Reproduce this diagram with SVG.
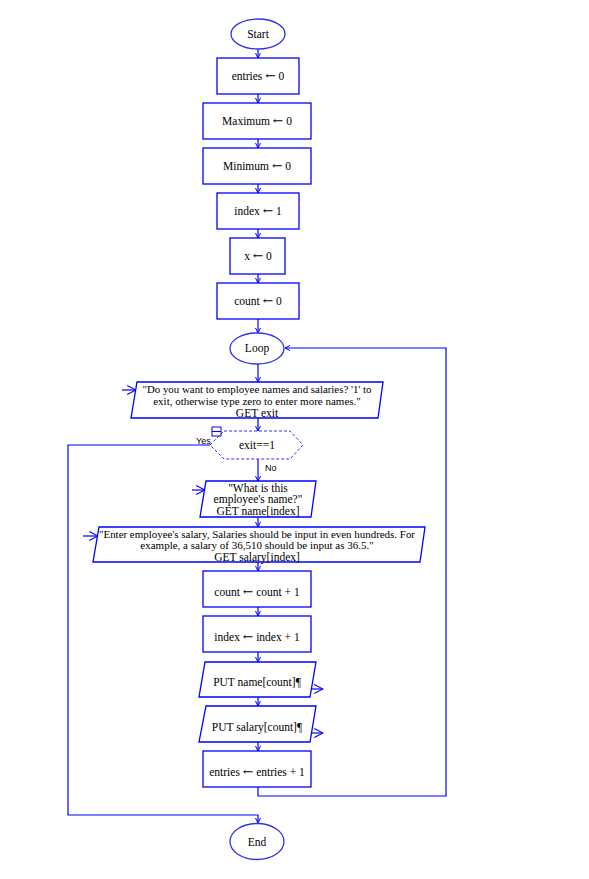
<svg xmlns="http://www.w3.org/2000/svg" width="589" height="879" viewBox="0 0 589 879">
<defs>
<style>
.b{fill:#fff;stroke:#0000ff;stroke-width:1.3}
.e{fill:#fff;stroke:#3030f0;stroke-width:1.3}
.d{fill:#fff;stroke:#3030f0;stroke-width:1;stroke-dasharray:3,2}
.c{fill:none;stroke:#0000ff;stroke-width:1.2}
.t{font-family:"Liberation Serif","Times New Roman",serif;font-size:11.5px;fill:#000;text-anchor:middle}
.w{font-size:11px}
.r{font-family:"DejaVu Serif",serif;font-size:12.5px}
.s{font-family:"Liberation Sans",Arial,sans-serif;font-size:9px;fill:#000}
</style>
<marker id="a" viewBox="0 0 6 6" refX="5" refY="3" markerWidth="6" markerHeight="6" markerUnits="userSpaceOnUse" orient="auto">
<path d="M0,0.5 L5,3 L0,5.5" fill="none" stroke="#0000ff" stroke-width="1"/>
</marker>
<marker id="o" viewBox="0 0 10 10" refX="9" refY="5" markerWidth="11" markerHeight="11" markerUnits="userSpaceOnUse" orient="auto">
<path d="M1,1 L9,5 L1,9" fill="none" stroke="#0000ff" stroke-width="1"/>
</marker>
</defs>
<rect width="589" height="879" fill="#fff"/>
<g id="connectors">
<path class="c" d="M258,49 V58" marker-end="url(#a)"/>
<path class="c" d="M258,94 V103" marker-end="url(#a)"/>
<path class="c" d="M258,139 V148" marker-end="url(#a)"/>
<path class="c" d="M258,184 V193" marker-end="url(#a)"/>
<path class="c" d="M258,229 V238" marker-end="url(#a)"/>
<path class="c" d="M258,274 V283" marker-end="url(#a)"/>
<path class="c" d="M258,319 V333" marker-end="url(#a)"/>
<path class="c" d="M258,364 V382" marker-end="url(#a)"/>
<path class="c" d="M258,418 V431" marker-end="url(#a)"/>
<path class="c" d="M258,459 V481" marker-end="url(#a)"/>
<path class="c" d="M258,517 V527" marker-end="url(#a)"/>
<path class="c" d="M258,562 V571" marker-end="url(#a)"/>
<path class="c" d="M258,607 V616" marker-end="url(#a)"/>
<path class="c" d="M258,652 V662" marker-end="url(#a)"/>
<path class="c" d="M258,697 V706" marker-end="url(#a)"/>
<path class="c" d="M258,742 V751" marker-end="url(#a)"/>
<path class="c" d="M258,787 V796 H446 V348 H285" marker-end="url(#a)"/>
<path class="c" d="M210,445 H68 V815 H258 V823" marker-end="url(#a)"/>
<path class="c" d="M122,390 H136" marker-end="url(#o)"/>
<path class="c" d="M192,490 H205" marker-end="url(#o)"/>
<path class="c" d="M83,536 H98" marker-end="url(#o)"/>
<path class="c" d="M310,689 H323" marker-end="url(#o)"/>
<path class="c" d="M310,733 H323" marker-end="url(#o)"/>
</g>
<g id="start"><ellipse class="e" cx="258" cy="34" rx="27" ry="15"/><text class="t" x="258" y="38">Start</text></g>
<g id="n1"><rect class="b" x="217" y="58" width="82" height="36"/><text class="t" x="258" y="80">entries <tspan class="r">←</tspan> 0</text></g>
<g id="n2"><rect class="b" x="203" y="103" width="108" height="36"/><text class="t" x="257" y="125">Maximum <tspan class="r">←</tspan> 0</text></g>
<g id="n3"><rect class="b" x="203" y="148" width="108" height="36"/><text class="t" x="257" y="170">Minimum <tspan class="r">←</tspan> 0</text></g>
<g id="n4"><rect class="b" x="217" y="193" width="82" height="36"/><text class="t" x="258" y="215">index <tspan class="r">←</tspan> 1</text></g>
<g id="n5"><rect class="b" x="230" y="238" width="55" height="36"/><text class="t" x="258" y="260">x <tspan class="r">←</tspan> 0</text></g>
<g id="n6"><rect class="b" x="217" y="283" width="82" height="36"/><text class="t" x="258" y="305">count <tspan class="r">←</tspan> 0</text></g>
<g id="loop"><ellipse class="e" cx="257" cy="348.5" rx="27" ry="15.5"/><text class="t" x="257" y="352">Loop</text></g>
<g id="in1"><path class="b" d="M137,382 H383 L378,418 H131 Z"/>
<text class="t w" x="257" y="393" textLength="229" lengthAdjust="spacingAndGlyphs">"Do you want to employee names and salaries? '1' to</text>
<text class="t w" x="257" y="405">exit, otherwise type zero to enter more names."</text>
<text class="t" x="257" y="417">GET exit</text></g>
<g id="dec"><path class="d" d="M224,431 H290 L303,445 L290,459 H224 L210,445 Z"/>
<rect x="212" y="427" width="9" height="9" fill="#fff" stroke="#0000ff" stroke-width="1"/>
<path d="M212,431.5 H221" stroke="#0000ff" stroke-width="1"/>
<text class="t" x="257" y="449">exit==1</text>
<text class="s" x="196" y="444">Yes</text>
<text class="s" x="265" y="471">No</text></g>
<g id="in2"><path class="b" d="M206,481 H316 L311,517 H200 Z"/>
<text class="t" x="258" y="492">"What is this</text>
<text class="t" x="258" y="503">employee's name?"</text>
<text class="t" x="258" y="515">GET name[index]</text></g>
<g id="in3"><path class="b" d="M99,527 H425 L420,562 H93 Z"/>
<text class="t w" x="257" y="538" textLength="316" lengthAdjust="spacingAndGlyphs">"Enter employee's salary, Salaries should be input in even hundreds.  For</text>
<text class="t w" x="257" y="549">example, a salary of 36,510 should be input as 36.5."</text>
<text class="t" x="257" y="561">GET salary[index]</text></g>
<g id="n7"><rect class="b" x="203" y="571" width="108" height="36"/><text class="t" x="257" y="596">count <tspan class="r">←</tspan> count + 1</text></g>
<g id="n8"><rect class="b" x="203" y="616" width="108" height="36"/><text class="t" x="257" y="641">index <tspan class="r">←</tspan> index + 1</text></g>
<g id="out1"><path class="b" d="M205,662 H316 L310,697 H199 Z"/><text class="t" x="257" y="686">PUT name[count]¶</text></g>
<g id="out2"><path class="b" d="M206,706 H316 L310,742 H199 Z"/><text class="t" x="257" y="731">PUT salary[count]¶</text></g>
<g id="n9"><rect class="b" x="203" y="751" width="108" height="36"/><text class="t" x="257" y="776">entries <tspan class="r">←</tspan> entries + 1</text></g>
<g id="end"><ellipse class="e" cx="257" cy="841.5" rx="27" ry="18"/><text class="t" x="257" y="846">End</text></g>
</svg>
